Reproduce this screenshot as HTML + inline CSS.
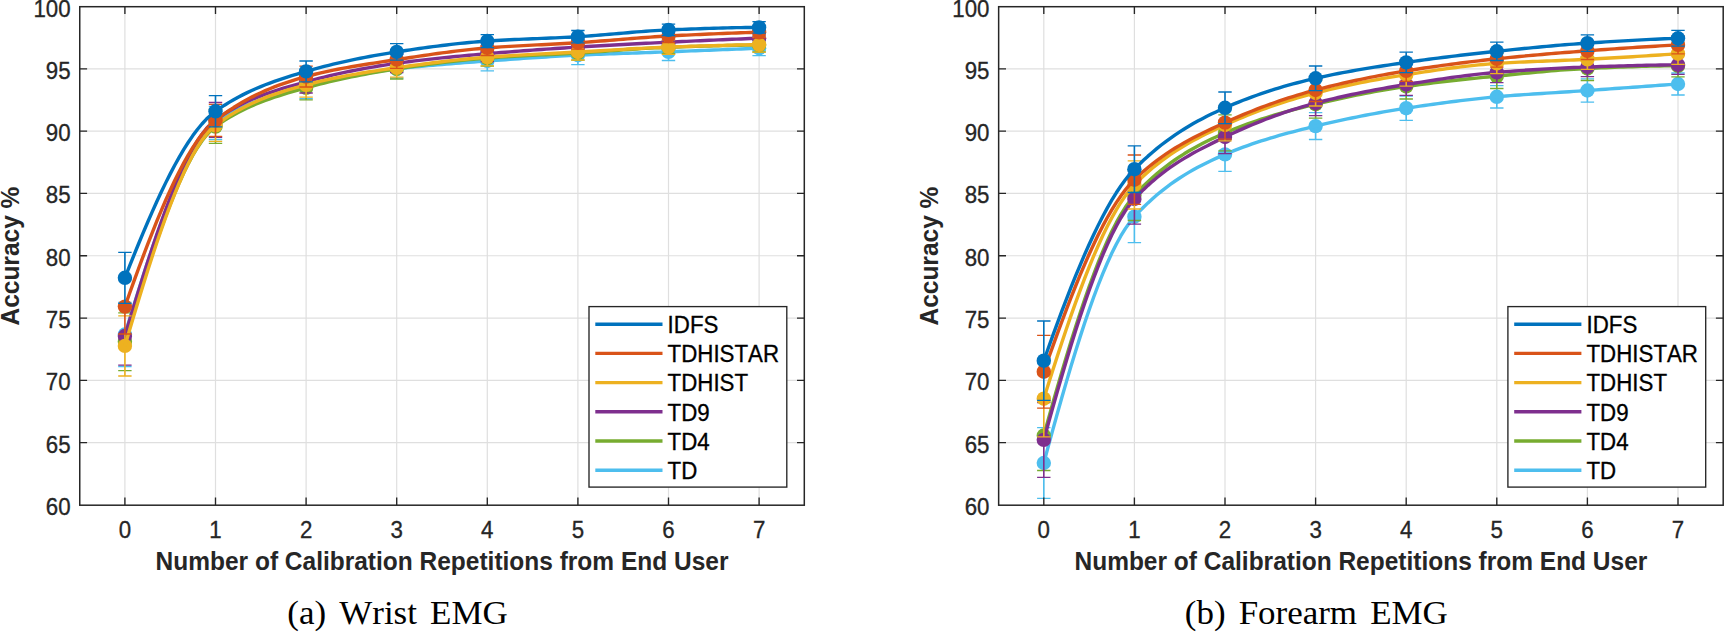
<!DOCTYPE html>
<html lang="en">
<head>
<meta charset="utf-8">
<title>Accuracy vs. Calibration Repetitions</title>
<style>
html,body{margin:0;padding:0;background:#fff;}
body{width:1725px;height:632px;overflow:hidden;}
svg{display:block;font-kerning:none;font-family:"Liberation Sans",Arial,Helvetica,sans-serif;}
.cap{font-family:"Liberation Serif","Times New Roman",serif;font-size:33.5px;fill:#000;word-spacing:4.2px;}
</style>
</head>
<body>
<svg width="1725" height="632" viewBox="0 0 1725 632">
<rect width="1725" height="632" fill="#fff"/>
<g transform="translate(0,0)">
<path d="M124.9 6.5V505M215.5 6.5V505M306.1 6.5V505M396.7 6.5V505M487.3 6.5V505M577.9 6.5V505M668.5 6.5V505M759.1 6.5V505M79.6 68.81H804.5M79.6 131.12H804.5M79.6 193.44H804.5M79.6 255.75H804.5M79.6 318.06H804.5M79.6 380.38H804.5M79.6 442.69H804.5" stroke="#dfdfdf" stroke-width="1.2" fill="none"/>
<g stroke="#4DBEEE" fill="none"><path d="M487.3 66.2V70.8M577.9 60.2V64.7M668.5 54.4V60.5M759.1 52.1V55.7" stroke-width="1.6"/><path d="M118.2 302.5h13.4M118.2 366.5h13.4M208.8 106.5h13.4M208.8 139.5h13.4M299.4 73.4h13.4M299.4 98.6h13.4M390 59.8h13.4M390 78h13.4M480.6 51.2h13.4M480.6 70.8h13.4M571.2 45.7h13.4M571.2 64.7h13.4M661.8 43.1h13.4M661.8 60.5h13.4M752.4 40.7h13.4M752.4 55.7h13.4" stroke-width="1.3"/>
<g fill="#4DBEEE" stroke="none"><circle cx="124.9" cy="334.5" r="7.2"/><circle cx="215.5" cy="123" r="7.2"/><circle cx="306.1" cy="86" r="7.2"/><circle cx="396.7" cy="68.9" r="7.2"/><circle cx="487.3" cy="61" r="7.2"/><circle cx="577.9" cy="55.2" r="7.2"/><circle cx="668.5" cy="51.8" r="7.2"/><circle cx="759.1" cy="48.2" r="7.2"/></g>
<polyline points="124.9,334.5 129.43,319.64 133.96,304.95 138.49,290.48 143.02,276.28 147.55,262.39 152.08,248.87 156.61,235.75 161.14,223.08 165.67,210.91 170.2,199.28 174.73,188.24 179.26,177.84 183.79,168.12 188.32,159.12 192.85,150.9 197.38,143.5 201.91,136.96 206.44,131.33 210.97,126.67 215.5,123 220.03,119.95 224.56,117.07 229.09,114.37 233.62,111.84 238.15,109.46 242.68,107.22 247.21,105.12 251.74,103.15 256.27,101.3 260.8,99.55 265.33,97.9 269.86,96.35 274.39,94.87 278.92,93.46 283.45,92.12 287.98,90.83 292.51,89.58 297.04,88.36 301.57,87.17 306.1,86 310.63,84.85 315.16,83.72 319.69,82.63 324.22,81.57 328.75,80.55 333.28,79.55 337.81,78.58 342.34,77.65 346.87,76.75 351.4,75.88 355.93,75.04 360.46,74.23 364.99,73.45 369.52,72.71 374.05,72 378.58,71.31 383.11,70.66 387.64,70.04 392.17,69.46 396.7,68.9 401.23,68.37 405.76,67.86 410.29,67.38 414.82,66.91 419.35,66.46 423.88,66.03 428.41,65.61 432.94,65.21 437.47,64.81 442,64.44 446.53,64.07 451.06,63.71 455.59,63.35 460.12,63.01 464.65,62.67 469.18,62.33 473.71,62 478.24,61.67 482.77,61.33 487.3,61 491.83,60.67 496.36,60.33 500.89,60 505.42,59.68 509.95,59.35 514.48,59.03 519.01,58.72 523.54,58.41 528.07,58.1 532.6,57.8 537.13,57.51 541.66,57.22 546.19,56.94 550.72,56.66 555.25,56.4 559.78,56.14 564.31,55.89 568.84,55.65 573.37,55.42 577.9,55.2 582.43,54.99 586.96,54.79 591.49,54.6 596.02,54.41 600.55,54.23 605.08,54.06 609.61,53.89 614.14,53.72 618.67,53.56 623.2,53.4 627.73,53.24 632.26,53.09 636.79,52.93 641.32,52.78 645.85,52.62 650.38,52.46 654.91,52.3 659.44,52.14 663.97,51.97 668.5,51.8 673.03,51.62 677.56,51.45 682.09,51.27 686.62,51.1 691.15,50.92 695.68,50.74 700.21,50.56 704.74,50.38 709.27,50.21 713.8,50.03 718.33,49.85 722.86,49.66 727.39,49.48 731.92,49.3 736.45,49.12 740.98,48.94 745.51,48.75 750.04,48.57 754.57,48.38 759.1,48.2" stroke-width="3.4" stroke-linejoin="round"/></g>
<g stroke="#77AC30" fill="none"><path d="M215.5 141.3V143.4M306.1 97.2V99.8M396.7 77.1V79" stroke-width="1.6"/><path d="M118.2 312.8h13.4M118.2 370.6h13.4M208.8 109.8h13.4M208.8 143.4h13.4M299.4 75.8h13.4M299.4 99.8h13.4M390 58.8h13.4M390 79h13.4M480.6 50h13.4M480.6 66.2h13.4M571.2 45.8h13.4M571.2 60.2h13.4M661.8 41.1h13.4M661.8 53.5h13.4M752.4 38h13.4M752.4 52h13.4" stroke-width="1.3"/>
<g fill="#77AC30" stroke="none"><circle cx="124.9" cy="341.7" r="7.2"/><circle cx="215.5" cy="126.6" r="7.2"/><circle cx="306.1" cy="87.8" r="7.2"/><circle cx="396.7" cy="68.9" r="7.2"/><circle cx="487.3" cy="58.1" r="7.2"/><circle cx="577.9" cy="53" r="7.2"/><circle cx="668.5" cy="47.3" r="7.2"/><circle cx="759.1" cy="45" r="7.2"/></g>
<polyline points="124.9,341.7 129.43,326.61 133.96,311.71 138.49,297.03 143.02,282.62 147.55,268.53 152.08,254.8 156.61,241.49 161.14,228.63 165.67,216.27 170.2,204.46 174.73,193.25 179.26,182.67 183.79,172.78 188.32,163.62 192.85,155.24 197.38,147.68 201.91,140.99 206.44,135.22 210.97,130.41 215.5,126.6 220.03,123.41 224.56,120.42 229.09,117.6 233.62,114.96 238.15,112.48 242.68,110.16 247.21,107.97 251.74,105.92 256.27,103.98 260.8,102.16 265.33,100.44 269.86,98.81 274.39,97.26 278.92,95.78 283.45,94.36 287.98,92.99 292.51,91.65 297.04,90.35 301.57,89.07 306.1,87.8 310.63,86.55 315.16,85.34 319.69,84.16 324.22,83.02 328.75,81.92 333.28,80.85 337.81,79.81 342.34,78.81 346.87,77.83 351.4,76.89 355.93,75.98 360.46,75.09 364.99,74.23 369.52,73.4 374.05,72.59 378.58,71.81 383.11,71.05 387.64,70.31 392.17,69.6 396.7,68.9 401.23,68.22 405.76,67.55 410.29,66.89 414.82,66.24 419.35,65.6 423.88,64.98 428.41,64.38 432.94,63.78 437.47,63.21 442,62.65 446.53,62.1 451.06,61.58 455.59,61.07 460.12,60.59 464.65,60.12 469.18,59.67 473.71,59.24 478.24,58.84 482.77,58.46 487.3,58.1 491.83,57.76 496.36,57.44 500.89,57.14 505.42,56.86 509.95,56.58 514.48,56.32 519.01,56.07 523.54,55.82 528.07,55.59 532.6,55.36 537.13,55.13 541.66,54.91 546.19,54.68 550.72,54.46 555.25,54.23 559.78,54 564.31,53.76 568.84,53.52 573.37,53.26 577.9,53 582.43,52.72 586.96,52.43 591.49,52.13 596.02,51.82 600.55,51.51 605.08,51.18 609.61,50.86 614.14,50.53 618.67,50.21 623.2,49.89 627.73,49.57 632.26,49.26 636.79,48.96 641.32,48.67 645.85,48.4 650.38,48.14 654.91,47.9 659.44,47.68 663.97,47.48 668.5,47.3 673.03,47.14 677.56,46.98 682.09,46.82 686.62,46.66 691.15,46.51 695.68,46.36 700.21,46.22 704.74,46.08 709.27,45.94 713.8,45.82 718.33,45.69 722.86,45.58 727.39,45.48 731.92,45.38 736.45,45.29 740.98,45.21 745.51,45.14 750.04,45.08 754.57,45.04 759.1,45" stroke-width="3.4" stroke-linejoin="round"/></g>
<g stroke="#7E2F8E" fill="none"><path d="" stroke-width="1.6"/><path d="M118.2 306.9h13.4M118.2 365.1h13.4M208.8 102.5h13.4M208.8 137.3h13.4M299.4 70.6h13.4M299.4 93h13.4M390 54h13.4M390 72.6h13.4M480.6 45.7h13.4M480.6 61.7h13.4M571.2 40.1h13.4M571.2 54.1h13.4M661.8 35.7h13.4M661.8 48.7h13.4M752.4 32.2h13.4M752.4 44.2h13.4" stroke-width="1.3"/>
<g fill="#7E2F8E" stroke="none"><circle cx="124.9" cy="336" r="7.2"/><circle cx="215.5" cy="119.9" r="7.2"/><circle cx="306.1" cy="81.8" r="7.2"/><circle cx="396.7" cy="63.3" r="7.2"/><circle cx="487.3" cy="53.7" r="7.2"/><circle cx="577.9" cy="47.1" r="7.2"/><circle cx="668.5" cy="42.2" r="7.2"/><circle cx="759.1" cy="38.2" r="7.2"/></g>
<polyline points="124.9,336 129.43,320.82 133.96,305.82 138.49,291.05 143.02,276.55 147.55,262.37 152.08,248.55 156.61,235.16 161.14,222.22 165.67,209.79 170.2,197.91 174.73,186.63 179.26,176.01 183.79,166.07 188.32,156.88 192.85,148.47 197.38,140.9 201.91,134.21 206.44,128.45 210.97,123.67 215.5,119.9 220.03,116.76 224.56,113.81 229.09,111.04 233.62,108.44 238.15,106 242.68,103.72 247.21,101.57 251.74,99.55 256.27,97.65 260.8,95.87 265.33,94.18 269.86,92.58 274.39,91.06 278.92,89.61 283.45,88.22 287.98,86.88 292.51,85.57 297.04,84.3 301.57,83.05 306.1,81.8 310.63,80.57 315.16,79.38 319.69,78.22 324.22,77.09 328.75,76 333.28,74.94 337.81,73.91 342.34,72.91 346.87,71.95 351.4,71.02 355.93,70.11 360.46,69.24 364.99,68.4 369.52,67.59 374.05,66.8 378.58,66.04 383.11,65.32 387.64,64.62 392.17,63.95 396.7,63.3 401.23,62.68 405.76,62.08 410.29,61.5 414.82,60.93 419.35,60.39 423.88,59.86 428.41,59.35 432.94,58.85 437.47,58.37 442,57.9 446.53,57.44 451.06,56.99 455.59,56.56 460.12,56.13 464.65,55.71 469.18,55.3 473.71,54.89 478.24,54.49 482.77,54.09 487.3,53.7 491.83,53.31 496.36,52.93 500.89,52.56 505.42,52.19 509.95,51.83 514.48,51.48 519.01,51.13 523.54,50.79 528.07,50.45 532.6,50.13 537.13,49.8 541.66,49.48 546.19,49.17 550.72,48.86 555.25,48.56 559.78,48.26 564.31,47.96 568.84,47.67 573.37,47.38 577.9,47.1 582.43,46.82 586.96,46.55 591.49,46.28 596.02,46.01 600.55,45.75 605.08,45.49 609.61,45.24 614.14,44.99 618.67,44.74 623.2,44.5 627.73,44.26 632.26,44.02 636.79,43.78 641.32,43.55 645.85,43.32 650.38,43.09 654.91,42.87 659.44,42.64 663.97,42.42 668.5,42.2 673.03,41.98 677.56,41.76 682.09,41.55 686.62,41.33 691.15,41.12 695.68,40.91 700.21,40.7 704.74,40.5 709.27,40.29 713.8,40.09 718.33,39.89 722.86,39.7 727.39,39.5 731.92,39.31 736.45,39.12 740.98,38.93 745.51,38.74 750.04,38.56 754.57,38.38 759.1,38.2" stroke-width="3.4" stroke-linejoin="round"/></g>
<g stroke="#EDB120" fill="none"><path d="M124.9 334V376M215.5 136.4V141.3M306.1 87V97.2M396.7 68.3V77.1M487.3 55.5V65.9M577.9 49.2V60M668.5 42.5V54.4M759.1 37.8V52.1" stroke-width="1.6"/><path d="M118.2 315.8h13.4M118.2 376h13.4M208.8 109.3h13.4M208.8 141.3h13.4M299.4 72.4h13.4M299.4 97.2h13.4M390 58.3h13.4M390 77.1h13.4M480.6 48.5h13.4M480.6 65.9h13.4M571.2 44h13.4M571.2 60h13.4M661.8 39.8h13.4M661.8 54.4h13.4M752.4 37.1h13.4M752.4 52.1h13.4" stroke-width="1.3"/>
<g fill="#EDB120" stroke="none"><circle cx="124.9" cy="345.9" r="7.2"/><circle cx="215.5" cy="125.3" r="7.2"/><circle cx="306.1" cy="84.8" r="7.2"/><circle cx="396.7" cy="67.7" r="7.2"/><circle cx="487.3" cy="57.2" r="7.2"/><circle cx="577.9" cy="52" r="7.2"/><circle cx="668.5" cy="47.1" r="7.2"/><circle cx="759.1" cy="44.6" r="7.2"/></g>
<polyline points="124.9,345.9 129.43,330.45 133.96,315.18 138.49,300.14 143.02,285.38 147.55,270.95 152.08,256.9 156.61,243.26 161.14,230.09 165.67,217.42 170.2,205.32 174.73,193.83 179.26,182.98 183.79,172.84 188.32,163.44 192.85,154.83 197.38,147.06 201.91,140.18 206.44,134.22 210.97,129.25 215.5,125.3 220.03,121.98 224.56,118.84 229.09,115.88 233.62,113.1 238.15,110.48 242.68,108.01 247.21,105.68 251.74,103.5 256.27,101.44 260.8,99.5 265.33,97.67 269.86,95.95 274.39,94.32 278.92,92.77 283.45,91.3 287.98,89.9 292.51,88.56 297.04,87.27 301.57,86.02 306.1,84.8 310.63,83.62 315.16,82.49 319.69,81.4 324.22,80.36 328.75,79.36 333.28,78.39 337.81,77.46 342.34,76.57 346.87,75.7 351.4,74.87 355.93,74.06 360.46,73.28 364.99,72.53 369.52,71.79 374.05,71.07 378.58,70.37 383.11,69.69 387.64,69.02 392.17,68.35 396.7,67.7 401.23,67.05 405.76,66.41 410.29,65.79 414.82,65.17 419.35,64.56 423.88,63.96 428.41,63.37 432.94,62.8 437.47,62.24 442,61.69 446.53,61.16 451.06,60.65 455.59,60.15 460.12,59.67 464.65,59.21 469.18,58.77 473.71,58.34 478.24,57.94 482.77,57.56 487.3,57.2 491.83,56.86 496.36,56.54 500.89,56.23 505.42,55.93 509.95,55.65 514.48,55.37 519.01,55.11 523.54,54.85 528.07,54.6 532.6,54.36 537.13,54.12 541.66,53.89 546.19,53.66 550.72,53.43 555.25,53.2 559.78,52.96 564.31,52.73 568.84,52.49 573.37,52.25 577.9,52 582.43,51.74 586.96,51.48 591.49,51.22 596.02,50.95 600.55,50.68 605.08,50.41 609.61,50.14 614.14,49.87 618.67,49.6 623.2,49.33 627.73,49.07 632.26,48.82 636.79,48.57 641.32,48.33 645.85,48.09 650.38,47.87 654.91,47.66 659.44,47.46 663.97,47.27 668.5,47.1 673.03,46.94 677.56,46.77 682.09,46.61 686.62,46.46 691.15,46.3 695.68,46.16 700.21,46.01 704.74,45.87 709.27,45.73 713.8,45.6 718.33,45.47 722.86,45.35 727.39,45.23 731.92,45.12 736.45,45.02 740.98,44.92 745.51,44.83 750.04,44.75 754.57,44.67 759.1,44.6" stroke-width="3.4" stroke-linejoin="round"/></g>
<g stroke="#D95319" fill="none"><path d="M124.9 303.3V334M215.5 126.9V136.4M306.1 81.8V87M396.7 60.2V68.3M487.3 47.55V55.5M577.9 42.9V49.2M668.5 35.6V42.5M759.1 33.2V37.8" stroke-width="1.6"/><path d="M118.2 279.2h13.4M118.2 334h13.4M208.8 104.4h13.4M208.8 136.4h13.4M299.4 66.2h13.4M299.4 87h13.4M390 50.9h13.4M390 68.3h13.4M480.6 40.3h13.4M480.6 55.5h13.4M571.2 36.2h13.4M571.2 49.2h13.4M661.8 29.5h13.4M661.8 42.5h13.4M752.4 26.8h13.4M752.4 37.8h13.4" stroke-width="1.3"/>
<g fill="#D95319" stroke="none"><circle cx="124.9" cy="306.6" r="7.2"/><circle cx="215.5" cy="120.4" r="7.2"/><circle cx="306.1" cy="76.6" r="7.2"/><circle cx="396.7" cy="59.6" r="7.2"/><circle cx="487.3" cy="47.9" r="7.2"/><circle cx="577.9" cy="42.7" r="7.2"/><circle cx="668.5" cy="36" r="7.2"/><circle cx="759.1" cy="32.3" r="7.2"/></g>
<polyline points="124.9,306.6 129.43,293.8 133.96,281.18 138.49,268.75 143.02,256.56 147.55,244.63 152.08,233.01 156.61,221.72 161.14,210.8 165.67,200.28 170.2,190.19 174.73,180.57 179.26,171.44 183.79,162.85 188.32,154.83 192.85,147.4 197.38,140.61 201.91,134.47 206.44,129.04 210.97,124.34 215.5,120.4 220.03,116.94 224.56,113.65 229.09,110.52 233.62,107.55 238.15,104.73 242.68,102.06 247.21,99.52 251.74,97.12 256.27,94.85 260.8,92.7 265.33,90.66 269.86,88.74 274.39,86.92 278.92,85.19 283.45,83.56 287.98,82.02 292.51,80.56 297.04,79.17 301.57,77.85 306.1,76.6 310.63,75.4 315.16,74.26 319.69,73.18 324.22,72.14 328.75,71.15 333.28,70.2 337.81,69.29 342.34,68.42 346.87,67.58 351.4,66.77 355.93,65.99 360.46,65.23 364.99,64.49 369.52,63.77 374.05,63.06 378.58,62.36 383.11,61.67 387.64,60.98 392.17,60.29 396.7,59.6 401.23,58.91 405.76,58.21 410.29,57.52 414.82,56.84 419.35,56.16 423.88,55.49 428.41,54.83 432.94,54.18 437.47,53.54 442,52.92 446.53,52.31 451.06,51.72 455.59,51.16 460.12,50.61 464.65,50.09 469.18,49.59 473.71,49.13 478.24,48.69 482.77,48.28 487.3,47.9 491.83,47.55 496.36,47.22 500.89,46.92 505.42,46.62 509.95,46.35 514.48,46.09 519.01,45.84 523.54,45.59 528.07,45.36 532.6,45.13 537.13,44.91 541.66,44.68 546.19,44.46 550.72,44.23 555.25,44 559.78,43.76 564.31,43.51 568.84,43.26 573.37,42.98 577.9,42.7 582.43,42.4 586.96,42.08 591.49,41.75 596.02,41.41 600.55,41.05 605.08,40.69 609.61,40.33 614.14,39.96 618.67,39.58 623.2,39.21 627.73,38.85 632.26,38.48 636.79,38.13 641.32,37.78 645.85,37.44 650.38,37.12 654.91,36.81 659.44,36.52 663.97,36.25 668.5,36 673.03,35.76 677.56,35.53 682.09,35.3 686.62,35.08 691.15,34.85 695.68,34.64 700.21,34.43 704.74,34.22 709.27,34.02 713.8,33.83 718.33,33.64 722.86,33.46 727.39,33.29 731.92,33.12 736.45,32.96 740.98,32.81 745.51,32.67 750.04,32.54 754.57,32.41 759.1,32.3" stroke-width="3.4" stroke-linejoin="round"/></g>
<g stroke="#0072BD" fill="none"><path d="M124.9 252.3V303.3M215.5 95.7V126.9M306.1 61V81.8M396.7 43.6V60.2M487.3 34.55V47.55M577.9 30.5V42.9M668.5 24.2V35.6M759.1 21.6V33.2" stroke-width="1.6"/><path d="M118.2 252.3h13.4M118.2 303.3h13.4M208.8 95.7h13.4M208.8 126.9h13.4M299.4 61h13.4M299.4 81.8h13.4M390 43.6h13.4M390 60.2h13.4M480.6 34.55h13.4M480.6 47.55h13.4M571.2 30.5h13.4M571.2 42.9h13.4M661.8 24.2h13.4M661.8 35.6h13.4M752.4 21.6h13.4M752.4 33.2h13.4" stroke-width="1.3"/>
<g fill="#0072BD" stroke="none"><circle cx="124.9" cy="277.8" r="7.2"/><circle cx="215.5" cy="111.3" r="7.2"/><circle cx="306.1" cy="71.4" r="7.2"/><circle cx="396.7" cy="51.9" r="7.2"/><circle cx="487.3" cy="41.05" r="7.2"/><circle cx="577.9" cy="36.7" r="7.2"/><circle cx="668.5" cy="29.9" r="7.2"/><circle cx="759.1" cy="27.4" r="7.2"/></g>
<polyline points="124.9,277.8 129.43,266.38 133.96,255.1 138.49,244.01 143.02,233.13 147.55,222.49 152.08,212.11 156.61,202.03 161.14,192.28 165.67,182.88 170.2,173.87 174.73,165.27 179.26,157.12 183.79,149.43 188.32,142.25 192.85,135.6 197.38,129.5 201.91,124 206.44,119.11 210.97,114.87 215.5,111.3 220.03,108.17 224.56,105.2 229.09,102.4 233.62,99.75 238.15,97.24 242.68,94.87 247.21,92.62 251.74,90.5 256.27,88.49 260.8,86.58 265.33,84.76 269.86,83.04 274.39,81.39 278.92,79.81 283.45,78.3 287.98,76.84 292.51,75.43 297.04,74.06 301.57,72.72 306.1,71.4 310.63,70.11 315.16,68.86 319.69,67.64 324.22,66.46 328.75,65.32 333.28,64.22 337.81,63.14 342.34,62.1 346.87,61.09 351.4,60.12 355.93,59.17 360.46,58.26 364.99,57.37 369.52,56.51 374.05,55.68 378.58,54.87 383.11,54.09 387.64,53.34 392.17,52.61 396.7,51.9 401.23,51.21 405.76,50.52 410.29,49.85 414.82,49.19 419.35,48.54 423.88,47.9 428.41,47.28 432.94,46.67 437.47,46.08 442,45.51 446.53,44.96 451.06,44.43 455.59,43.92 460.12,43.43 464.65,42.97 469.18,42.53 473.71,42.12 478.24,41.73 482.77,41.38 487.3,41.05 491.83,40.75 496.36,40.47 500.89,40.21 505.42,39.97 509.95,39.75 514.48,39.53 519.01,39.33 523.54,39.13 528.07,38.95 532.6,38.76 537.13,38.58 541.66,38.4 546.19,38.22 550.72,38.03 555.25,37.83 559.78,37.63 564.31,37.42 568.84,37.2 573.37,36.96 577.9,36.7 582.43,36.42 586.96,36.11 591.49,35.78 596.02,35.43 600.55,35.06 605.08,34.68 609.61,34.29 614.14,33.89 618.67,33.49 623.2,33.09 627.73,32.7 632.26,32.31 636.79,31.93 641.32,31.57 645.85,31.23 650.38,30.91 654.91,30.61 659.44,30.34 663.97,30.1 668.5,29.9 673.03,29.72 677.56,29.54 682.09,29.36 686.62,29.18 691.15,29.01 695.68,28.84 700.21,28.68 704.74,28.53 709.27,28.38 713.8,28.24 718.33,28.1 722.86,27.98 727.39,27.87 731.92,27.76 736.45,27.67 740.98,27.59 745.51,27.52 750.04,27.47 754.57,27.43 759.1,27.4" stroke-width="3.4" stroke-linejoin="round"/></g>
<path d="M124.9 505v-7.5M124.9 6.5v7.5M215.5 505v-7.5M215.5 6.5v7.5M306.1 505v-7.5M306.1 6.5v7.5M396.7 505v-7.5M396.7 6.5v7.5M487.3 505v-7.5M487.3 6.5v7.5M577.9 505v-7.5M577.9 6.5v7.5M668.5 505v-7.5M668.5 6.5v7.5M759.1 505v-7.5M759.1 6.5v7.5M79.6 68.81h7.5M804.5 68.81h-7.5M79.6 131.12h7.5M804.5 131.12h-7.5M79.6 193.44h7.5M804.5 193.44h-7.5M79.6 255.75h7.5M804.5 255.75h-7.5M79.6 318.06h7.5M804.5 318.06h-7.5M79.6 380.38h7.5M804.5 380.38h-7.5M79.6 442.69h7.5M804.5 442.69h-7.5" stroke="#262626" stroke-width="1.35" fill="none"/>
<rect x="79.75" y="6.7" width="724.55" height="498.5" fill="none" stroke="#262626" stroke-width="1.5"/>
<g font-size="22.3" fill="#262626" stroke="#262626" stroke-width="0.3">
<g text-anchor="middle"><text transform="translate(124.9,537.6) scale(1,1.035)">0</text><text transform="translate(215.5,537.6) scale(1,1.035)">1</text><text transform="translate(306.1,537.6) scale(1,1.035)">2</text><text transform="translate(396.7,537.6) scale(1,1.035)">3</text><text transform="translate(487.3,537.6) scale(1,1.035)">4</text><text transform="translate(577.9,537.6) scale(1,1.035)">5</text><text transform="translate(668.5,537.6) scale(1,1.035)">6</text><text transform="translate(759.1,537.6) scale(1,1.035)">7</text></g>
<g text-anchor="end"><text transform="translate(70.6,16.5) scale(1,1.035)">100</text><text transform="translate(70.6,78.81) scale(1,1.035)">95</text><text transform="translate(70.6,141.12) scale(1,1.035)">90</text><text transform="translate(70.6,203.44) scale(1,1.035)">85</text><text transform="translate(70.6,265.75) scale(1,1.035)">80</text><text transform="translate(70.6,328.06) scale(1,1.035)">75</text><text transform="translate(70.6,390.38) scale(1,1.035)">70</text><text transform="translate(70.6,452.69) scale(1,1.035)">65</text><text transform="translate(70.6,515) scale(1,1.035)">60</text></g>
</g>
<g font-size="24.5" font-weight="bold" fill="#262626" text-anchor="middle">
<text transform="translate(442,569.9) scale(1,1.025)">Number of Calibration Repetitions from End User</text>
<text transform="translate(19.1,256.1) rotate(-90) scale(1,1.025)">Accuracy %</text>
</g>
<rect x="589" y="306.6" width="197.8" height="180.5" fill="#fff" stroke="#262626" stroke-width="1.35"/>
<g font-size="22.3" fill="#000" stroke="#000" stroke-width="0.3">
<path d="M595.3 324.2H662.5" stroke="#0072BD" stroke-width="3.4"/>
<text transform="translate(667.6,333) scale(1,1.035)">IDFS</text>
<path d="M595.3 353.4H662.5" stroke="#D95319" stroke-width="3.4"/>
<text transform="translate(667.6,362.2) scale(1,1.035)">TDHISTAR</text>
<path d="M595.3 382.6H662.5" stroke="#EDB120" stroke-width="3.4"/>
<text transform="translate(667.6,391.4) scale(1,1.035)">TDHIST</text>
<path d="M595.3 411.8H662.5" stroke="#7E2F8E" stroke-width="3.4"/>
<text transform="translate(667.6,420.6) scale(1,1.035)">TD9</text>
<path d="M595.3 441H662.5" stroke="#77AC30" stroke-width="3.4"/>
<text transform="translate(667.6,449.8) scale(1,1.035)">TD4</text>
<path d="M595.3 470.2H662.5" stroke="#4DBEEE" stroke-width="3.4"/>
<text transform="translate(667.6,479) scale(1,1.035)">TD</text>
</g>
</g>
<g transform="translate(918.9,0)">
<path d="M124.9 6.5V505M215.5 6.5V505M306.1 6.5V505M396.7 6.5V505M487.3 6.5V505M577.9 6.5V505M668.5 6.5V505M759.1 6.5V505M79.6 68.81H804.5M79.6 131.12H804.5M79.6 193.44H804.5M79.6 255.75H804.5M79.6 318.06H804.5M79.6 380.38H804.5M79.6 442.69H804.5" stroke="#dfdfdf" stroke-width="1.2" fill="none"/>
<g stroke="#4DBEEE" fill="none"><path d="M124.9 477.3V498.3M215.5 224.2V242.7M306.1 153.7V171.3M396.7 118.2V139.5M487.3 99V120.3M577.9 88.5V108M668.5 80.5V102.1M759.1 76.8V95" stroke-width="1.6"/><path d="M118.2 427.7h13.4M118.2 498.3h13.4M208.8 190.7h13.4M208.8 242.7h13.4M299.4 137.5h13.4M299.4 171.3h13.4M390 112.7h13.4M390 139.5h13.4M480.6 96.1h13.4M480.6 120.3h13.4M571.2 85.6h13.4M571.2 108h13.4M661.8 78.9h13.4M661.8 102.1h13.4M752.4 73h13.4M752.4 95h13.4" stroke-width="1.3"/>
<g fill="#4DBEEE" stroke="none"><circle cx="124.9" cy="463" r="7.2"/><circle cx="215.5" cy="216.7" r="7.2"/><circle cx="306.1" cy="154.4" r="7.2"/><circle cx="396.7" cy="126.1" r="7.2"/><circle cx="487.3" cy="108.2" r="7.2"/><circle cx="577.9" cy="96.8" r="7.2"/><circle cx="668.5" cy="90.5" r="7.2"/><circle cx="759.1" cy="84" r="7.2"/></g>
<polyline points="124.9,463 129.43,446.18 133.96,429.6 138.49,413.28 143.02,397.26 147.55,381.6 152.08,366.33 156.61,351.5 161.14,337.13 165.67,323.29 170.2,309.99 174.73,297.3 179.26,285.24 183.79,273.86 188.32,263.21 192.85,253.31 197.38,244.22 201.91,235.97 206.44,228.61 210.97,222.17 215.5,216.7 220.03,211.85 224.56,207.25 229.09,202.88 233.62,198.74 238.15,194.81 242.68,191.08 247.21,187.54 251.74,184.19 256.27,181 260.8,177.98 265.33,175.12 269.86,172.39 274.39,169.79 278.92,167.31 283.45,164.95 287.98,162.68 292.51,160.5 297.04,158.4 301.57,156.37 306.1,154.4 310.63,152.49 315.16,150.65 319.69,148.88 324.22,147.18 328.75,145.53 333.28,143.95 337.81,142.42 342.34,140.94 346.87,139.51 351.4,138.13 355.93,136.78 360.46,135.48 364.99,134.22 369.52,132.98 374.05,131.78 378.58,130.6 383.11,129.45 387.64,128.32 392.17,127.2 396.7,126.1 401.23,125.01 405.76,123.95 410.29,122.9 414.82,121.88 419.35,120.87 423.88,119.89 428.41,118.92 432.94,117.98 437.47,117.05 442,116.15 446.53,115.27 451.06,114.4 455.59,113.56 460.12,112.73 464.65,111.93 469.18,111.14 473.71,110.38 478.24,109.63 482.77,108.91 487.3,108.2 491.83,107.51 496.36,106.83 500.89,106.15 505.42,105.49 509.95,104.84 514.48,104.2 519.01,103.57 523.54,102.96 528.07,102.36 532.6,101.77 537.13,101.2 541.66,100.64 546.19,100.1 550.72,99.58 555.25,99.07 559.78,98.58 564.31,98.11 568.84,97.65 573.37,97.22 577.9,96.8 582.43,96.4 586.96,96.02 591.49,95.66 596.02,95.31 600.55,94.97 605.08,94.65 609.61,94.33 614.14,94.03 618.67,93.73 623.2,93.44 627.73,93.15 632.26,92.86 636.79,92.58 641.32,92.29 645.85,92 650.38,91.71 654.91,91.42 659.44,91.12 663.97,90.82 668.5,90.5 673.03,90.18 677.56,89.86 682.09,89.54 686.62,89.22 691.15,88.89 695.68,88.57 700.21,88.25 704.74,87.92 709.27,87.6 713.8,87.28 718.33,86.95 722.86,86.62 727.39,86.3 731.92,85.97 736.45,85.64 740.98,85.32 745.51,84.99 750.04,84.66 754.57,84.33 759.1,84" stroke-width="3.4" stroke-linejoin="round"/></g>
<g stroke="#77AC30" fill="none"><path d="M396.7 115.6V118.2M487.3 95.4V99M577.9 82.6V88.5M668.5 76.7V80.5M759.1 74.4V76.8" stroke-width="1.6"/><path d="M118.2 400.5h13.4M118.2 470.5h13.4M208.8 170.5h13.4M208.8 220.5h13.4M299.4 114.9h13.4M299.4 150.9h13.4M390 90.2h13.4M390 118.2h13.4M480.6 74h13.4M480.6 99h13.4M571.2 63.7h13.4M571.2 88.5h13.4M661.8 56.5h13.4M661.8 80.5h13.4M752.4 54.8h13.4M752.4 76.8h13.4" stroke-width="1.3"/>
<g fill="#77AC30" stroke="none"><circle cx="124.9" cy="435.5" r="7.2"/><circle cx="215.5" cy="195.5" r="7.2"/><circle cx="306.1" cy="132.9" r="7.2"/><circle cx="396.7" cy="104.2" r="7.2"/><circle cx="487.3" cy="86.5" r="7.2"/><circle cx="577.9" cy="76.1" r="7.2"/><circle cx="668.5" cy="68.5" r="7.2"/><circle cx="759.1" cy="65.8" r="7.2"/></g>
<polyline points="124.9,435.5 129.43,419.16 133.96,403.05 138.49,387.2 143.02,371.64 147.55,356.43 152.08,341.6 156.61,327.18 161.14,313.22 165.67,299.76 170.2,286.82 174.73,274.47 179.26,262.72 183.79,251.63 188.32,241.23 192.85,231.56 197.38,222.65 201.91,214.56 206.44,207.3 210.97,200.94 215.5,195.5 220.03,190.66 224.56,186.06 229.09,181.69 233.62,177.54 238.15,173.6 242.68,169.86 247.21,166.31 251.74,162.94 256.27,159.75 260.8,156.71 265.33,153.82 269.86,151.07 274.39,148.45 278.92,145.95 283.45,143.56 287.98,141.27 292.51,139.07 297.04,136.95 301.57,134.89 306.1,132.9 310.63,130.97 315.16,129.11 319.69,127.31 324.22,125.58 328.75,123.91 333.28,122.29 337.81,120.74 342.34,119.23 346.87,117.78 351.4,116.37 355.93,115 360.46,113.68 364.99,112.39 369.52,111.14 374.05,109.92 378.58,108.73 383.11,107.56 387.64,106.42 392.17,105.3 396.7,104.2 401.23,103.11 405.76,102.05 410.29,101 414.82,99.98 419.35,98.97 423.88,97.98 428.41,97.02 432.94,96.07 437.47,95.15 442,94.25 446.53,93.37 451.06,92.52 455.59,91.68 460.12,90.87 464.65,90.08 469.18,89.32 473.71,88.58 478.24,87.86 482.77,87.17 487.3,86.5 491.83,85.85 496.36,85.23 500.89,84.62 505.42,84.02 509.95,83.44 514.48,82.88 519.01,82.33 523.54,81.8 528.07,81.27 532.6,80.76 537.13,80.26 541.66,79.77 546.19,79.29 550.72,78.81 555.25,78.35 559.78,77.89 564.31,77.43 568.84,76.98 573.37,76.54 577.9,76.1 582.43,75.66 586.96,75.21 591.49,74.76 596.02,74.31 600.55,73.86 605.08,73.42 609.61,72.98 614.14,72.54 618.67,72.12 623.2,71.7 627.73,71.3 632.26,70.91 636.79,70.53 641.32,70.17 645.85,69.84 650.38,69.52 654.91,69.23 659.44,68.96 663.97,68.71 668.5,68.5 673.03,68.3 677.56,68.1 682.09,67.91 686.62,67.72 691.15,67.53 695.68,67.35 700.21,67.17 704.74,67 709.27,66.84 713.8,66.68 718.33,66.54 722.86,66.4 727.39,66.28 731.92,66.17 736.45,66.07 740.98,65.99 745.51,65.91 750.04,65.86 754.57,65.82 759.1,65.8" stroke-width="3.4" stroke-linejoin="round"/></g>
<g stroke="#7E2F8E" fill="none"><path d="M124.9 436.9V477.3M215.5 209V224.2M306.1 140.8V153.7M396.7 106V115.6M487.3 86.1V95.4M577.9 73.6V82.6M668.5 69.3V76.7M759.1 64.3V74.4" stroke-width="1.6"/><path d="M118.2 402.5h13.4M118.2 477.3h13.4M208.8 173.8h13.4M208.8 224.2h13.4M299.4 120.3h13.4M299.4 153.7h13.4M390 90.6h13.4M390 115.6h13.4M480.6 73.6h13.4M480.6 95.4h13.4M571.2 62.2h13.4M571.2 82.6h13.4M661.8 57.3h13.4M661.8 76.7h13.4M752.4 55.2h13.4M752.4 74.4h13.4" stroke-width="1.3"/>
<g fill="#7E2F8E" stroke="none"><circle cx="124.9" cy="439.9" r="7.2"/><circle cx="215.5" cy="199" r="7.2"/><circle cx="306.1" cy="137" r="7.2"/><circle cx="396.7" cy="103.1" r="7.2"/><circle cx="487.3" cy="84.5" r="7.2"/><circle cx="577.9" cy="72.4" r="7.2"/><circle cx="668.5" cy="67" r="7.2"/><circle cx="759.1" cy="64.8" r="7.2"/></g>
<polyline points="124.9,439.9 129.43,423.48 133.96,407.28 138.49,391.35 143.02,375.72 147.55,360.43 152.08,345.52 156.61,331.03 161.14,317 165.67,303.47 170.2,290.48 174.73,278.07 179.26,266.28 183.79,255.15 188.32,244.72 192.85,235.02 197.38,226.11 201.91,218 206.44,210.76 210.97,204.41 215.5,199 220.03,194.2 224.56,189.67 229.09,185.38 233.62,181.33 238.15,177.5 242.68,173.87 247.21,170.44 251.74,167.18 256.27,164.09 260.8,161.15 265.33,158.35 269.86,155.67 274.39,153.1 278.92,150.62 283.45,148.23 287.98,145.9 292.51,143.63 297.04,141.4 301.57,139.19 306.1,137 310.63,134.83 315.16,132.72 319.69,130.65 324.22,128.63 328.75,126.67 333.28,124.75 337.81,122.88 342.34,121.06 346.87,119.29 351.4,117.57 355.93,115.9 360.46,114.28 364.99,112.71 369.52,111.19 374.05,109.72 378.58,108.3 383.11,106.92 387.64,105.6 392.17,104.33 396.7,103.1 401.23,101.92 405.76,100.77 410.29,99.65 414.82,98.56 419.35,97.5 423.88,96.48 428.41,95.47 432.94,94.5 437.47,93.55 442,92.63 446.53,91.73 451.06,90.85 455.59,90 460.12,89.16 464.65,88.34 469.18,87.54 473.71,86.76 478.24,85.99 482.77,85.24 487.3,84.5 491.83,83.77 496.36,83.04 500.89,82.32 505.42,81.6 509.95,80.9 514.48,80.2 519.01,79.52 523.54,78.85 528.07,78.19 532.6,77.55 537.13,76.93 541.66,76.33 546.19,75.75 550.72,75.19 555.25,74.65 559.78,74.15 564.31,73.66 568.84,73.21 573.37,72.79 577.9,72.4 582.43,72.03 586.96,71.67 591.49,71.32 596.02,70.98 600.55,70.65 605.08,70.33 609.61,70.02 614.14,69.72 618.67,69.44 623.2,69.16 627.73,68.89 632.26,68.63 636.79,68.39 641.32,68.16 645.85,67.93 650.38,67.72 654.91,67.52 659.44,67.34 663.97,67.16 668.5,67 673.03,66.84 677.56,66.69 682.09,66.54 686.62,66.39 691.15,66.24 695.68,66.1 700.21,65.97 704.74,65.83 709.27,65.71 713.8,65.58 718.33,65.47 722.86,65.36 727.39,65.26 731.92,65.17 736.45,65.08 740.98,65.01 745.51,64.94 750.04,64.88 754.57,64.84 759.1,64.8" stroke-width="3.4" stroke-linejoin="round"/></g>
<g stroke="#EDB120" fill="none"><path d="M124.9 408.1V436.9M215.5 204.4V209M306.1 139.1V140.8M396.7 101.5V106M487.3 81.3V86.1M577.9 67.1V73.6M668.5 59.5V69.3M759.1 53.9V64.3" stroke-width="1.6"/><path d="M118.2 360.5h13.4M118.2 436.9h13.4M208.8 160.8h13.4M208.8 209h13.4M299.4 109.2h13.4M299.4 140.8h13.4M390 80h13.4M390 106h13.4M480.6 63.3h13.4M480.6 86.1h13.4M571.2 53.2h13.4M571.2 73.6h13.4M661.8 49.3h13.4M661.8 69.3h13.4M752.4 43.1h13.4M752.4 64.3h13.4" stroke-width="1.3"/>
<g fill="#EDB120" stroke="none"><circle cx="124.9" cy="398.7" r="7.2"/><circle cx="215.5" cy="184.9" r="7.2"/><circle cx="306.1" cy="125" r="7.2"/><circle cx="396.7" cy="93" r="7.2"/><circle cx="487.3" cy="74.7" r="7.2"/><circle cx="577.9" cy="63.4" r="7.2"/><circle cx="668.5" cy="59.3" r="7.2"/><circle cx="759.1" cy="53.7" r="7.2"/></g>
<polyline points="124.9,398.7 129.43,384.25 133.96,370.01 138.49,355.99 143.02,342.24 147.55,328.79 152.08,315.67 156.61,302.92 161.14,290.56 165.67,278.63 170.2,267.15 174.73,256.17 179.26,245.72 183.79,235.83 188.32,226.52 192.85,217.84 197.38,209.81 201.91,202.47 206.44,195.85 210.97,189.98 215.5,184.9 220.03,180.34 224.56,176.02 229.09,171.92 233.62,168.03 238.15,164.34 242.68,160.83 247.21,157.51 251.74,154.34 256.27,151.33 260.8,148.47 265.33,145.73 269.86,143.11 274.39,140.59 278.92,138.17 283.45,135.84 287.98,133.57 292.51,131.37 297.04,129.21 301.57,127.09 306.1,125 310.63,122.94 315.16,120.93 319.69,118.98 324.22,117.08 328.75,115.23 333.28,113.42 337.81,111.67 342.34,109.96 346.87,108.31 351.4,106.7 355.93,105.13 360.46,103.61 364.99,102.14 369.52,100.71 374.05,99.32 378.58,97.97 383.11,96.67 387.64,95.41 392.17,94.18 396.7,93 401.23,91.85 405.76,90.73 410.29,89.63 414.82,88.56 419.35,87.52 423.88,86.5 428.41,85.51 432.94,84.55 437.47,83.6 442,82.69 446.53,81.79 451.06,80.92 455.59,80.07 460.12,79.24 464.65,78.43 469.18,77.65 473.71,76.88 478.24,76.13 482.77,75.41 487.3,74.7 491.83,74 496.36,73.31 500.89,72.61 505.42,71.93 509.95,71.25 514.48,70.58 519.01,69.93 523.54,69.29 528.07,68.66 532.6,68.06 537.13,67.47 541.66,66.9 546.19,66.36 550.72,65.85 555.25,65.36 559.78,64.9 564.31,64.47 568.84,64.08 573.37,63.72 577.9,63.4 582.43,63.11 586.96,62.84 591.49,62.59 596.02,62.35 600.55,62.14 605.08,61.93 609.61,61.73 614.14,61.54 618.67,61.36 623.2,61.19 627.73,61.02 632.26,60.85 636.79,60.68 641.32,60.5 645.85,60.32 650.38,60.14 654.91,59.95 659.44,59.74 663.97,59.53 668.5,59.3 673.03,59.06 677.56,58.82 682.09,58.57 686.62,58.31 691.15,58.06 695.68,57.79 700.21,57.53 704.74,57.26 709.27,56.98 713.8,56.7 718.33,56.42 722.86,56.13 727.39,55.84 731.92,55.54 736.45,55.25 740.98,54.94 745.51,54.64 750.04,54.33 754.57,54.02 759.1,53.7" stroke-width="3.4" stroke-linejoin="round"/></g>
<g stroke="#D95319" fill="none"><path d="M124.9 400.4V408.1M215.5 192.5V204.4M306.1 123.6V139.1M396.7 90.6V101.5M487.3 72.6V81.3M577.9 60.5V67.1M668.5 51.3V59.5M759.1 46.2V53.9" stroke-width="1.6"/><path d="M118.2 335.3h13.4M118.2 408.1h13.4M208.8 155h13.4M208.8 204.4h13.4M299.4 106.1h13.4M299.4 139.1h13.4M390 78.5h13.4M390 101.5h13.4M480.6 60.5h13.4M480.6 81.3h13.4M571.2 50.5h13.4M571.2 67.1h13.4M661.8 42.1h13.4M661.8 59.5h13.4M752.4 35.9h13.4M752.4 53.9h13.4" stroke-width="1.3"/>
<g fill="#D95319" stroke="none"><circle cx="124.9" cy="371.7" r="7.2"/><circle cx="215.5" cy="179.7" r="7.2"/><circle cx="306.1" cy="122.6" r="7.2"/><circle cx="396.7" cy="90" r="7.2"/><circle cx="487.3" cy="70.9" r="7.2"/><circle cx="577.9" cy="58.8" r="7.2"/><circle cx="668.5" cy="50.8" r="7.2"/><circle cx="759.1" cy="44.9" r="7.2"/></g>
<polyline points="124.9,371.7 129.43,358.81 133.96,346.1 138.49,333.6 143.02,321.34 147.55,309.34 152.08,297.63 156.61,286.25 161.14,275.21 165.67,264.54 170.2,254.27 174.73,244.43 179.26,235.05 183.79,226.15 188.32,217.77 192.85,209.92 197.38,202.63 201.91,195.94 206.44,189.87 210.97,184.45 215.5,179.7 220.03,175.41 224.56,171.34 229.09,167.49 233.62,163.82 238.15,160.35 242.68,157.04 247.21,153.9 251.74,150.91 256.27,148.06 260.8,145.34 265.33,142.73 269.86,140.23 274.39,137.82 278.92,135.49 283.45,133.23 287.98,131.03 292.51,128.88 297.04,126.77 301.57,124.68 306.1,122.6 310.63,120.55 315.16,118.54 319.69,116.58 324.22,114.67 328.75,112.8 333.28,110.97 337.81,109.2 342.34,107.46 346.87,105.77 351.4,104.12 355.93,102.52 360.46,100.96 364.99,99.44 369.52,97.97 374.05,96.54 378.58,95.15 383.11,93.8 387.64,92.49 392.17,91.22 396.7,90 401.23,88.81 405.76,87.65 410.29,86.51 414.82,85.4 419.35,84.32 423.88,83.27 428.41,82.24 432.94,81.23 437.47,80.25 442,79.29 446.53,78.36 451.06,77.44 455.59,76.55 460.12,75.69 464.65,74.84 469.18,74.01 473.71,73.21 478.24,72.42 482.77,71.65 487.3,70.9 491.83,70.17 496.36,69.45 500.89,68.74 505.42,68.05 509.95,67.38 514.48,66.72 519.01,66.07 523.54,65.43 528.07,64.81 532.6,64.2 537.13,63.61 541.66,63.02 546.19,62.45 550.72,61.9 555.25,61.35 559.78,60.82 564.31,60.3 568.84,59.79 573.37,59.29 577.9,58.8 582.43,58.32 586.96,57.86 591.49,57.4 596.02,56.95 600.55,56.51 605.08,56.08 609.61,55.66 614.14,55.25 618.67,54.84 623.2,54.44 627.73,54.05 632.26,53.67 636.79,53.29 641.32,52.92 645.85,52.55 650.38,52.19 654.91,51.84 659.44,51.49 663.97,51.14 668.5,50.8 673.03,50.46 677.56,50.13 682.09,49.8 686.62,49.47 691.15,49.15 695.68,48.83 700.21,48.52 704.74,48.21 709.27,47.91 713.8,47.61 718.33,47.31 722.86,47.02 727.39,46.74 731.92,46.46 736.45,46.19 740.98,45.92 745.51,45.65 750.04,45.4 754.57,45.15 759.1,44.9" stroke-width="3.4" stroke-linejoin="round"/></g>
<g stroke="#0072BD" fill="none"><path d="M124.9 321V400.4M215.5 145.9V192.5M306.1 92V123.6M396.7 66V90.6M487.3 52.2V72.6M577.9 42.1V60.5M668.5 34.9V51.3M759.1 30.4V46.2" stroke-width="1.6"/><path d="M118.2 321h13.4M118.2 400.4h13.4M208.8 145.9h13.4M208.8 192.5h13.4M299.4 92h13.4M299.4 123.6h13.4M390 66h13.4M390 90.6h13.4M480.6 52.2h13.4M480.6 72.6h13.4M571.2 42.1h13.4M571.2 60.5h13.4M661.8 34.9h13.4M661.8 51.3h13.4M752.4 30.4h13.4M752.4 46.2h13.4" stroke-width="1.3"/>
<g fill="#0072BD" stroke="none"><circle cx="124.9" cy="360.7" r="7.2"/><circle cx="215.5" cy="169.2" r="7.2"/><circle cx="306.1" cy="107.8" r="7.2"/><circle cx="396.7" cy="78.3" r="7.2"/><circle cx="487.3" cy="62.4" r="7.2"/><circle cx="577.9" cy="51.3" r="7.2"/><circle cx="668.5" cy="43.1" r="7.2"/><circle cx="759.1" cy="38.3" r="7.2"/></g>
<polyline points="124.9,360.7 129.43,347.96 133.96,335.39 138.49,323.04 143.02,310.92 147.55,299.06 152.08,287.48 156.61,276.21 161.14,265.28 165.67,254.7 170.2,244.5 174.73,234.72 179.26,225.37 183.79,216.48 188.32,208.07 192.85,200.17 197.38,192.81 201.91,186 206.44,179.78 210.97,174.18 215.5,169.2 220.03,164.65 224.56,160.31 229.09,156.15 233.62,152.19 238.15,148.4 242.68,144.78 247.21,141.32 251.74,138.02 256.27,134.87 260.8,131.86 265.33,128.98 269.86,126.22 274.39,123.59 278.92,121.06 283.45,118.64 287.98,116.31 292.51,114.07 297.04,111.91 301.57,109.82 306.1,107.8 310.63,105.84 315.16,103.93 319.69,102.08 324.22,100.29 328.75,98.55 333.28,96.87 337.81,95.24 342.34,93.66 346.87,92.13 351.4,90.65 355.93,89.22 360.46,87.83 364.99,86.49 369.52,85.2 374.05,83.95 378.58,82.74 383.11,81.57 387.64,80.44 392.17,79.35 396.7,78.3 401.23,77.28 405.76,76.3 410.29,75.34 414.82,74.42 419.35,73.52 423.88,72.65 428.41,71.81 432.94,70.98 437.47,70.18 442,69.4 446.53,68.64 451.06,67.9 455.59,67.17 460.12,66.45 464.65,65.75 469.18,65.07 473.71,64.39 478.24,63.72 482.77,63.06 487.3,62.4 491.83,61.75 496.36,61.12 500.89,60.49 505.42,59.87 509.95,59.27 514.48,58.67 519.01,58.09 523.54,57.52 528.07,56.95 532.6,56.39 537.13,55.85 541.66,55.31 546.19,54.78 550.72,54.26 555.25,53.75 559.78,53.24 564.31,52.75 568.84,52.26 573.37,51.78 577.9,51.3 582.43,50.83 586.96,50.36 591.49,49.9 596.02,49.43 600.55,48.98 605.08,48.52 609.61,48.08 614.14,47.64 618.67,47.2 623.2,46.78 627.73,46.36 632.26,45.95 636.79,45.55 641.32,45.17 645.85,44.79 650.38,44.43 654.91,44.07 659.44,43.74 663.97,43.41 668.5,43.1 673.03,42.8 677.56,42.5 682.09,42.21 686.62,41.92 691.15,41.64 695.68,41.37 700.21,41.1 704.74,40.84 709.27,40.58 713.8,40.33 718.33,40.09 722.86,39.85 727.39,39.63 731.92,39.41 736.45,39.2 740.98,39 745.51,38.81 750.04,38.63 754.57,38.46 759.1,38.3" stroke-width="3.4" stroke-linejoin="round"/></g>
<path d="M124.9 505v-7.5M124.9 6.5v7.5M215.5 505v-7.5M215.5 6.5v7.5M306.1 505v-7.5M306.1 6.5v7.5M396.7 505v-7.5M396.7 6.5v7.5M487.3 505v-7.5M487.3 6.5v7.5M577.9 505v-7.5M577.9 6.5v7.5M668.5 505v-7.5M668.5 6.5v7.5M759.1 505v-7.5M759.1 6.5v7.5M79.6 68.81h7.5M804.5 68.81h-7.5M79.6 131.12h7.5M804.5 131.12h-7.5M79.6 193.44h7.5M804.5 193.44h-7.5M79.6 255.75h7.5M804.5 255.75h-7.5M79.6 318.06h7.5M804.5 318.06h-7.5M79.6 380.38h7.5M804.5 380.38h-7.5M79.6 442.69h7.5M804.5 442.69h-7.5" stroke="#262626" stroke-width="1.35" fill="none"/>
<rect x="79.75" y="6.7" width="724.55" height="498.5" fill="none" stroke="#262626" stroke-width="1.5"/>
<g font-size="22.3" fill="#262626" stroke="#262626" stroke-width="0.3">
<g text-anchor="middle"><text transform="translate(124.9,537.6) scale(1,1.035)">0</text><text transform="translate(215.5,537.6) scale(1,1.035)">1</text><text transform="translate(306.1,537.6) scale(1,1.035)">2</text><text transform="translate(396.7,537.6) scale(1,1.035)">3</text><text transform="translate(487.3,537.6) scale(1,1.035)">4</text><text transform="translate(577.9,537.6) scale(1,1.035)">5</text><text transform="translate(668.5,537.6) scale(1,1.035)">6</text><text transform="translate(759.1,537.6) scale(1,1.035)">7</text></g>
<g text-anchor="end"><text transform="translate(70.6,16.5) scale(1,1.035)">100</text><text transform="translate(70.6,78.81) scale(1,1.035)">95</text><text transform="translate(70.6,141.12) scale(1,1.035)">90</text><text transform="translate(70.6,203.44) scale(1,1.035)">85</text><text transform="translate(70.6,265.75) scale(1,1.035)">80</text><text transform="translate(70.6,328.06) scale(1,1.035)">75</text><text transform="translate(70.6,390.38) scale(1,1.035)">70</text><text transform="translate(70.6,452.69) scale(1,1.035)">65</text><text transform="translate(70.6,515) scale(1,1.035)">60</text></g>
</g>
<g font-size="24.5" font-weight="bold" fill="#262626" text-anchor="middle">
<text transform="translate(442,569.9) scale(1,1.025)">Number of Calibration Repetitions from End User</text>
<text transform="translate(19.1,256.1) rotate(-90) scale(1,1.025)">Accuracy %</text>
</g>
<rect x="589" y="306.6" width="197.8" height="180.5" fill="#fff" stroke="#262626" stroke-width="1.35"/>
<g font-size="22.3" fill="#000" stroke="#000" stroke-width="0.3">
<path d="M595.3 324.2H662.5" stroke="#0072BD" stroke-width="3.4"/>
<text transform="translate(667.6,333) scale(1,1.035)">IDFS</text>
<path d="M595.3 353.4H662.5" stroke="#D95319" stroke-width="3.4"/>
<text transform="translate(667.6,362.2) scale(1,1.035)">TDHISTAR</text>
<path d="M595.3 382.6H662.5" stroke="#EDB120" stroke-width="3.4"/>
<text transform="translate(667.6,391.4) scale(1,1.035)">TDHIST</text>
<path d="M595.3 411.8H662.5" stroke="#7E2F8E" stroke-width="3.4"/>
<text transform="translate(667.6,420.6) scale(1,1.035)">TD9</text>
<path d="M595.3 441H662.5" stroke="#77AC30" stroke-width="3.4"/>
<text transform="translate(667.6,449.8) scale(1,1.035)">TD4</text>
<path d="M595.3 470.2H662.5" stroke="#4DBEEE" stroke-width="3.4"/>
<text transform="translate(667.6,479) scale(1,1.035)">TD</text>
</g>
</g>
<text class="cap" x="287.3" y="623.8" textLength="220.5" lengthAdjust="spacingAndGlyphs">(a) Wrist EMG</text>
<text class="cap" x="1184.8" y="623.8" textLength="263" lengthAdjust="spacingAndGlyphs">(b) Forearm EMG</text>
</svg>
</body>
</html>
